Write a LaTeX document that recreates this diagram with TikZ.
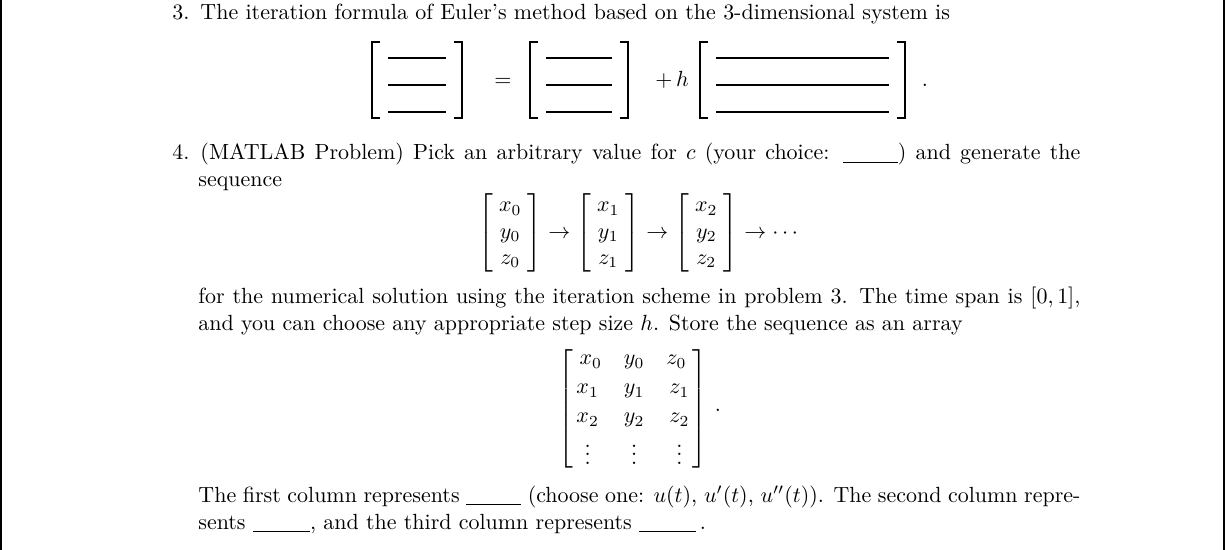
\documentclass[tikz,border=0pt]{standalone}
\usepackage{amsmath}
\begin{document}
\begin{tikzpicture}[x=0.4555pt,y=-0.4555pt,
  txt/.style={anchor=base west,inner sep=0pt},
  brk/.style={line width=0.5pt},
  bl/.style={line width=0.5pt}]
\useasboundingbox (0,0) rectangle (1226,550);
\draw[line width=0.6pt] (1,0) -- (1,550) (1224,0) -- (1224,550);
\newcommand{\blank}[1]{\rule[-1.5pt]{#1}{0.4pt}}
\node[txt] (l1) at (172,20) {3.\enspace The iteration formula of Euler's method based on the 3-dimensional system is};
% bracket blocks
\foreach \a/\b/\n in {372/462/A,530/628/B,700/905/C}{
  \draw[brk] (\a+8,42) -- (\a,42) -- (\a,118) -- (\a+8,118);
  \draw[brk] (\b-8,42) -- (\b,42) -- (\b,118) -- (\b-8,118);
  \foreach \y in {58,85,112} \draw[bl] (\a+16,\y) -- (\b-16,\y);
}
\node (eq) at (503,82) {$=$};
\node (ph) at (672,80) {$+\,h$};
\node (dot1) at (925,85) {.};
\node[txt] (l2) at (172,160) {\makebox[908\dimexpr0.4555pt][s]{4.\enspace (MATLAB Problem) Pick an arbitrary value for $c$ (your choice: \blank{25pt}) and generate the}};
\node[txt] (l3) at (198,187) {sequence};
\node (seq) at (640,233) {$\begin{bmatrix}\;x_0\;\\ y_0\\ z_0\end{bmatrix}\to\begin{bmatrix}\;x_1\;\\ y_1\\ z_1\end{bmatrix}\to\begin{bmatrix}\;x_2\;\\ y_2\\ z_2\end{bmatrix}\to\cdots$};
\node[txt] (l4) at (198,303) {\makebox[882\dimexpr0.4555pt][s]{for the numerical solution using the iteration scheme in problem 3. The time span is $[0,1]$,}};
\node[txt] (l5) at (198,330) {and you can choose any appropriate step size $h$. Store the sequence as an array};
\node (arr) at (633,409) {$\renewcommand{\arraystretch}{1.1}\begin{bmatrix}\;x_0 & y_0 & z_0\;\\ x_1 & y_1 & z_1\\ x_2 & y_2 & z_2\\ \vdots & \vdots & \vdots\end{bmatrix}$};
\node (dot2) at (718,410) {.};
\node[txt] (l6) at (198,502) {\makebox[882\dimexpr0.4555pt][s]{The first column represents \blank{25pt} (choose one: $u(t)$, $u'(t)$, $u''(t)$). The second column repre-}};
\node[txt] (l7) at (198,529) {sents \blank{26pt}, and the third column represents \blank{26pt}\,.};
\end{tikzpicture}
\end{document}
